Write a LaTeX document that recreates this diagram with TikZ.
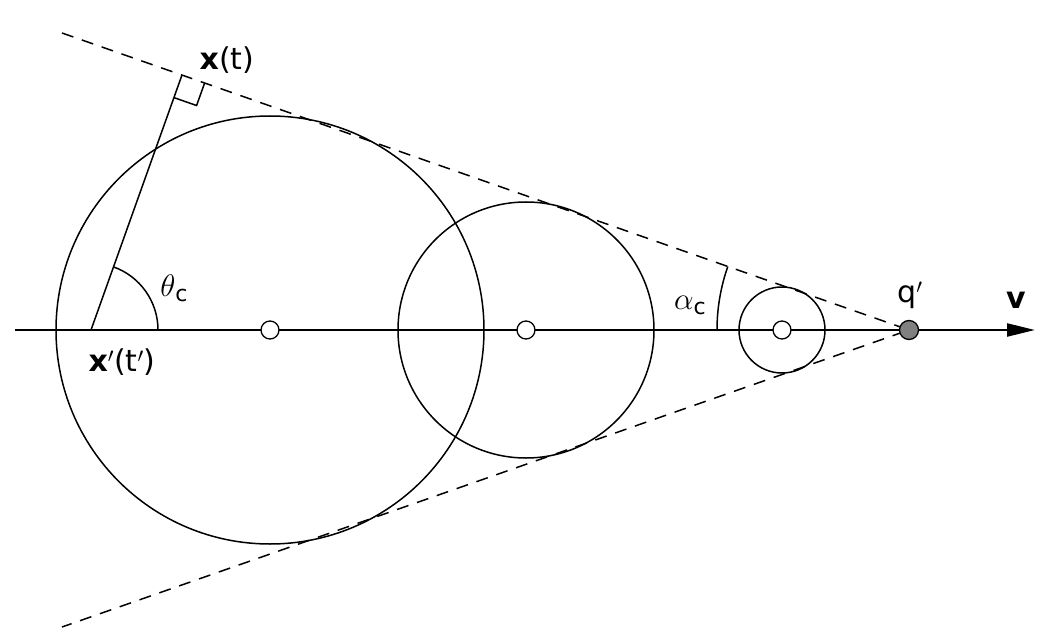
\documentclass[tikz,border=0pt]{standalone}
\usepackage{fontspec}
\usepackage{graphicx}
\setmainfont{DejaVu Sans}
\usetikzlibrary{arrows.meta,calc}
\begin{document}
\begin{tikzpicture}[x=1pt,y=-1pt,line width=1.5pt,
  lbl/.style={font=\fontsize{30}{34}\selectfont,inner sep=0pt},
  hole/.style={circle,draw,fill=white,minimum size=18pt,inner sep=0pt,line width=1.3pt}]
\useasboundingbox (0,0) rectangle (1051,644);
\coordinate (q) at (909,330);
\coordinate (ul) at (62,33);
\coordinate (ll) at (62,627);
\coordinate (L) at (15,330);
\coordinate (xp) at (91,330);
\coordinate (xt) at (182,75);
\coordinate (R) at (1035,330);
\draw[dash pattern=on 12pt off 9pt] (ul) -- (q) -- (ll);
\draw (L) -- (q);
\draw (270,330) circle (214);
\draw (526,330) circle (128);
\draw (782,330) circle (43);
\draw (xp) -- (xt);
\draw ($(xt)!24pt!(xp)$) -- ++(-19.3:24pt) -- ($(xt)!24pt!(q)$);
\draw (xp) ++(67,0) arc[start angle=0,end angle=-70.3,radius=67];
\draw (q) ++(-192,0) arc[start angle=180,end angle=199.3,radius=192];
\node[hole] (c1) at (270,330) {};
\node[hole] (c2) at (526,330) {};
\node[hole] (c3) at (782,330) {};
\node[circle,draw,fill=gray,minimum size=19pt,inner sep=0pt,line width=1.3pt] (qd) at (q) {};
\draw[line width=2.4pt,-{Triangle[length=28pt,width=13pt]}] (qd.east) -- (R);
\node[lbl] at (227,60) {$\mathbf{x}$(t)};
\node[lbl] at (122,362) {$\mathbf{x}'$(t$'$)};
\node[lbl] at (174,288) {\scalebox{1.25}{$\theta$}\raisebox{-5pt}{\fontsize{22}{24}\selectfont c}};
\node[lbl] at (690,305) {\scalebox{1.25}{$\alpha$}\raisebox{-5pt}{\fontsize{22}{24}\selectfont c}};
\node[lbl] at (910,295) {q$'$};
\node[lbl] at (1016,300) {$\mathbf{v}$};
\end{tikzpicture}
\end{document}
